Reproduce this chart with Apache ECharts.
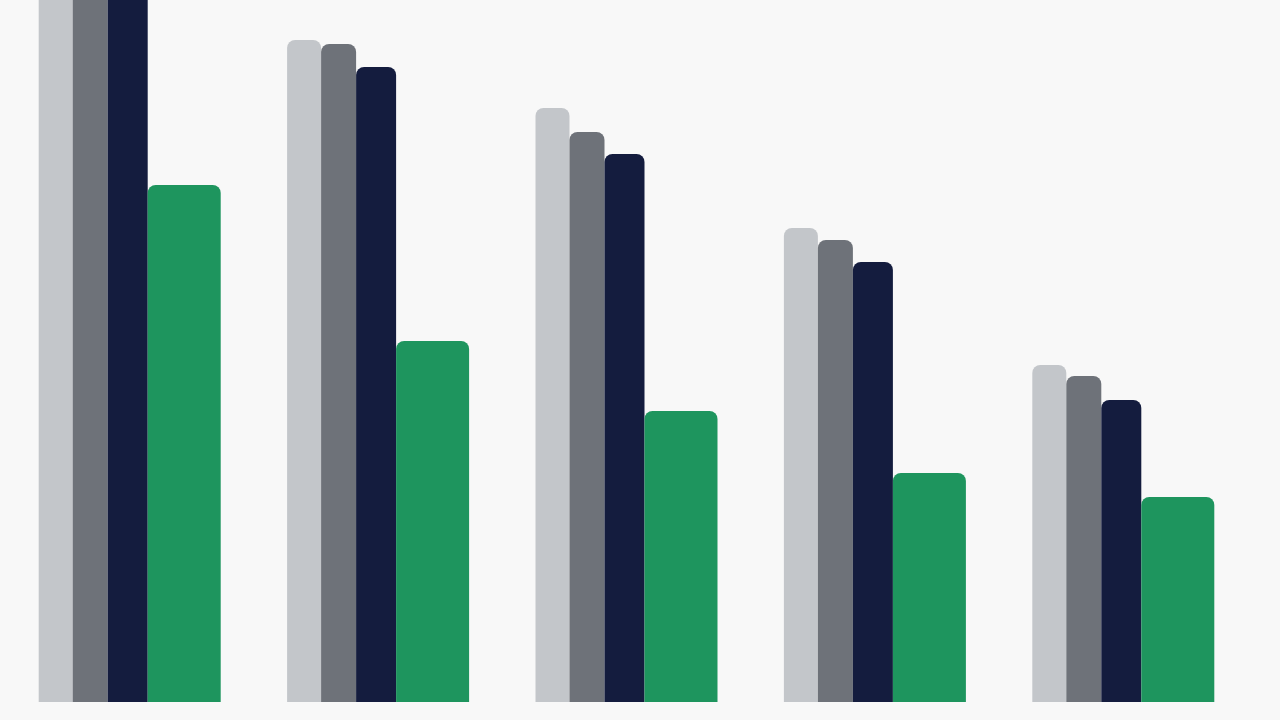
<!DOCTYPE html>
<html>
<head>
<meta charset="utf-8">
<script src="https://cdn.jsdelivr.net/npm/echarts@6/dist/echarts.min.js"></script>
<style>
  html, body { margin: 0; padding: 0; background: #f8f8f8; }
  #main { width: 1280px; height: 720px; }
</style>
</head>
<body>
<div id="main"></div>
<script>
// data (heights above the baseline)
var categories = ['A', 'B', 'C', 'D', 'E'];
var lightValues = [730, 662, 594, 474, 337];
var grayValues = [730, 658, 570, 462, 326];
var navyValues = [730, 635, 548, 440, 302];
var greenValues = [517, 361, 291, 229, 205];

var myChart = echarts.init(document.getElementById('main'));

function barSeries(name, data, color, width) {
  return {
    name: name,
    type: 'bar',
    data: data,
    barWidth: width,
    barGap: '0%',
    // first group runs past the top edge, so let it overflow the grid
    clip: false,
    itemStyle: { color: color, borderRadius: [8, 8, 0, 0] }
  };
}

myChart.setOption({
  backgroundColor: '#f8f8f8',
  animation: false,
  grid: { left: 5.5, right: 32.5, top: 0, bottom: 18 },
  xAxis: {
    type: 'category',
    data: categories,
    axisLine: { show: false },
    axisTick: { show: false },
    axisLabel: { show: false }
  },
  yAxis: {
    type: 'value',
    min: 0,
    max: 702,
    show: false,
    splitLine: { show: false }
  },
  series: [
    barSeries('light', lightValues, '#c3c6ca', 34),
    barSeries('gray', grayValues, '#6e7279', 35),
    barSeries('navy', navyValues, '#141c3e', 40),
    barSeries('green', greenValues, '#1e955e', 73)
  ]
});
</script>
</body>
</html>
